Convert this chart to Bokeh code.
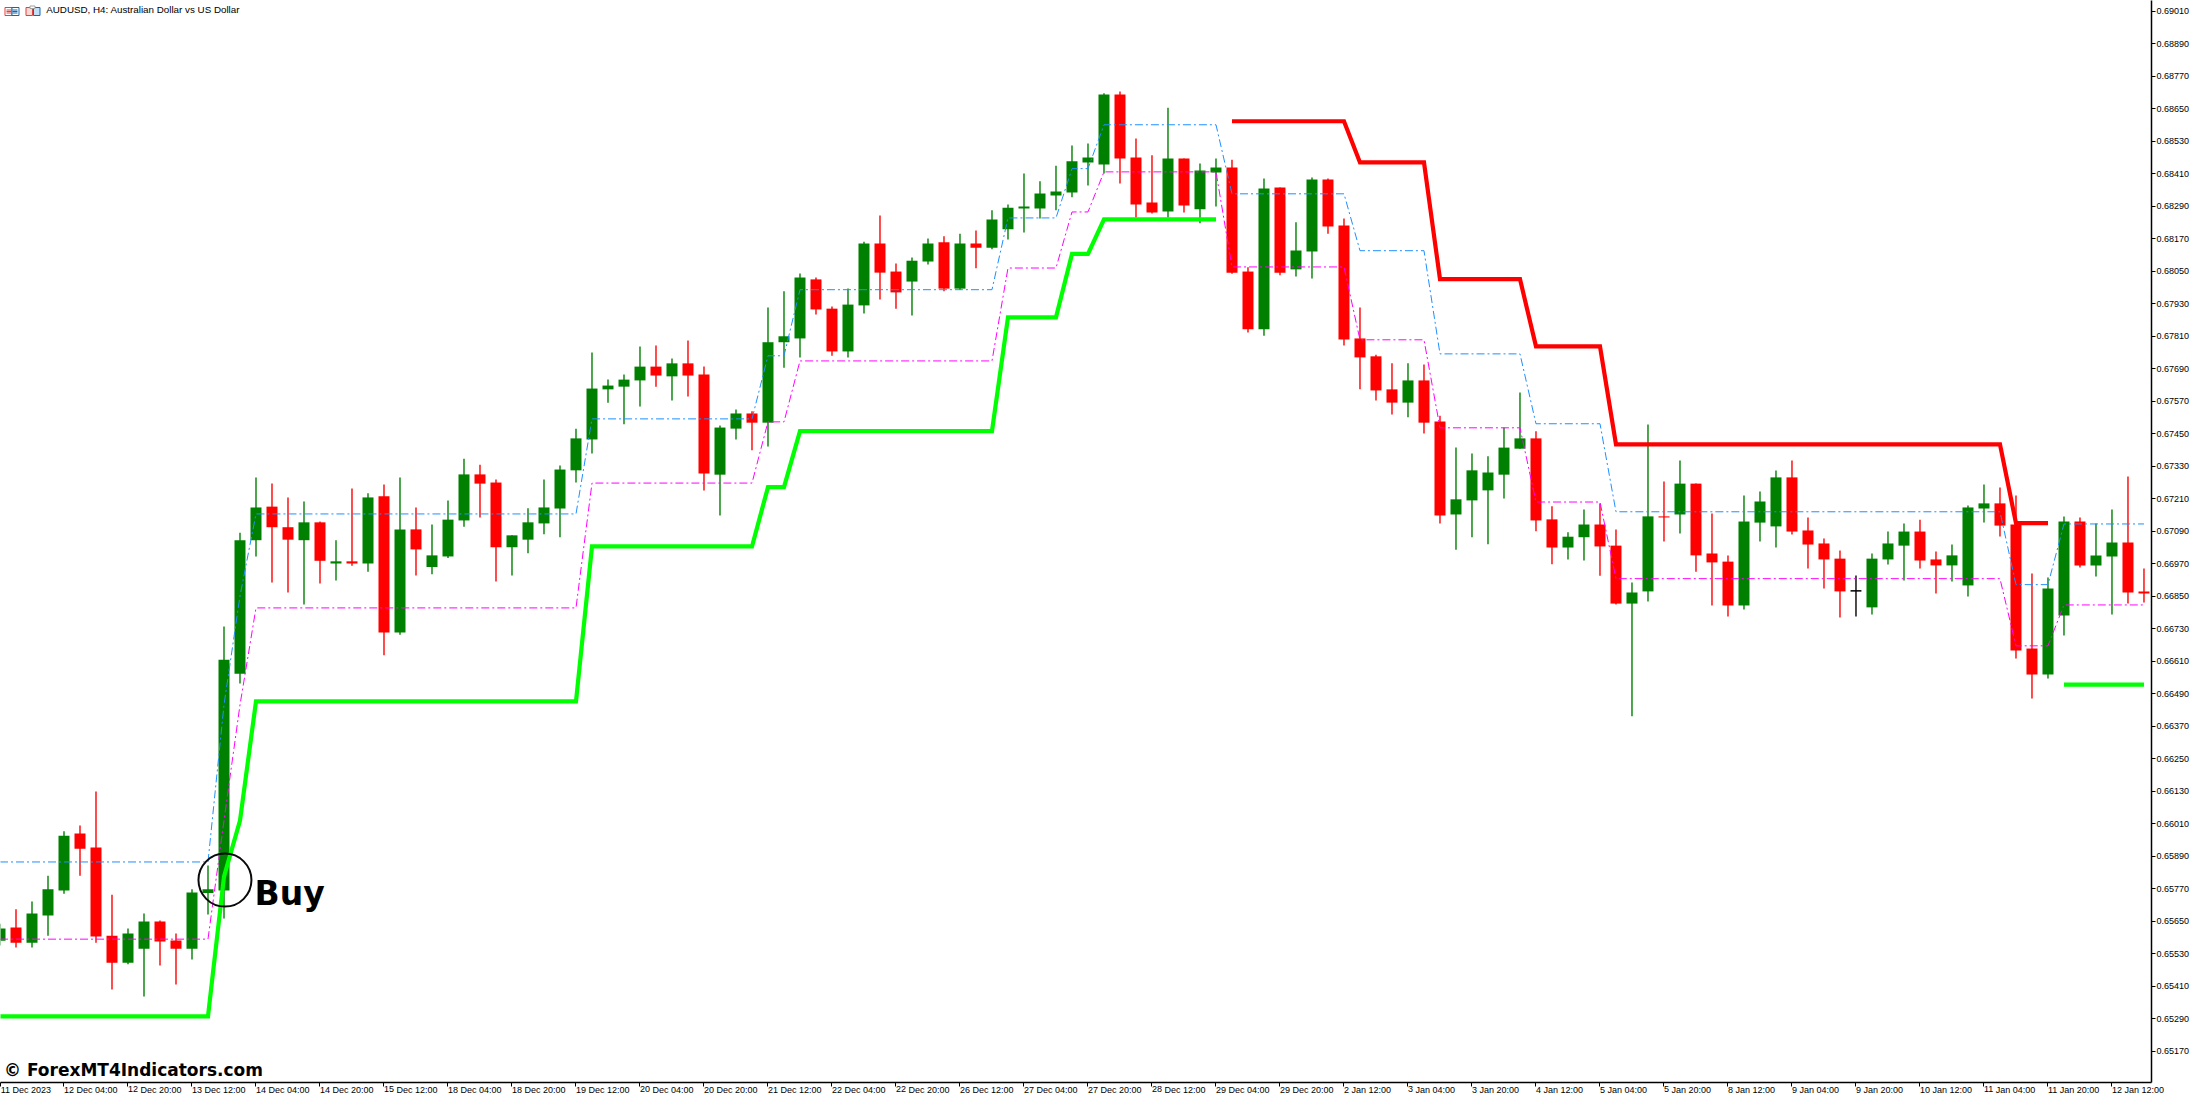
from bokeh.plotting import figure
from bokeh.models import ColumnDataSource, FixedTicker, Range1d, AllLabels, NumeralTickFormatter
from bokeh.core.properties import value
from bokeh.embed import file_html
from bokeh.resources import INLINE

opens = [
0.65577,0.65626,0.65570,0.65670,0.65763,0.65973,0.65921,0.65596,0.65496,0.65548,
0.65648,0.65578,0.65548,0.65753,0.65763,0.66563,0.67056,0.67180,0.67104,0.67056,
0.67122,0.66970,0.66978,0.66970,0.67218,0.66715,0.67096,0.66957,0.66996,0.67129,
0.67299,0.67269,0.67030,0.67058,0.67118,0.67173,0.67314,0.67428,0.67613,0.67623,
0.67646,0.67697,0.67661,0.67709,0.67668,0.67298,0.67468,0.67524,0.67490,0.67787,
0.67801,0.68019,0.67911,0.67753,0.67923,0.68152,0.68048,0.68011,0.68085,0.68156,
0.67985,0.68152,0.68136,0.68204,0.68281,0.68281,0.68329,0.68340,0.68451,0.68443,
0.68702,0.68469,0.68303,0.68270,0.68465,0.68278,0.68414,0.68432,0.68048,0.67835,
0.68358,0.68056,0.68122,0.68388,0.68218,0.67801,0.67735,0.67613,0.67564,0.67646,
0.67494,0.67151,0.67203,0.67240,0.67298,0.67394,0.67432,0.67133,0.67029,0.67067,
0.67114,0.67036,0.66822,0.66867,0.67144,0.67151,0.67265,0.67007,0.66977,0.66815,
0.67121,0.67107,0.67288,0.67092,0.67044,0.66988,0.66869,0.66808,0.66985,0.67036,
0.67088,0.66985,0.66963,0.66889,0.67173,0.67192,0.67114,0.66656,0.66560,0.66778,
0.67125,0.66963,0.66996,0.67048,0.66867]
highs = [
0.65640,0.65693,0.65722,0.65817,0.65981,0.66003,0.66128,0.65747,0.65622,0.65678,
0.65652,0.65604,0.65767,0.65855,0.66737,0.67084,0.67288,0.67265,0.67214,0.67199,
0.67125,0.67056,0.67247,0.67229,0.67262,0.67288,0.67177,0.67114,0.67203,0.67357,
0.67335,0.67280,0.67074,0.67174,0.67280,0.67332,0.67468,0.67749,0.67649,0.67668,
0.67771,0.67775,0.67727,0.67793,0.67697,0.67480,0.67539,0.67532,0.67915,0.67975,
0.68041,0.68026,0.67919,0.67985,0.68158,0.68255,0.68078,0.68100,0.68170,0.68178,
0.68188,0.68200,0.68274,0.68296,0.68410,0.68381,0.68439,0.68513,0.68521,0.68706,
0.68713,0.68539,0.68477,0.68653,0.68465,0.68447,0.68465,0.68461,0.68064,0.68392,
0.68358,0.68230,0.68395,0.68392,0.68244,0.67915,0.67741,0.67709,0.67709,0.67705,
0.67516,0.67398,0.67376,0.67366,0.67472,0.67601,0.67458,0.67181,0.67085,0.67169,
0.67192,0.67096,0.66900,0.67483,0.67273,0.67350,0.67265,0.67155,0.67000,0.67221,
0.67236,0.67313,0.67350,0.67140,0.67062,0.67018,0.66926,0.67007,0.67088,0.67118,
0.67132,0.67014,0.67040,0.67184,0.67262,0.67251,0.67221,0.66933,0.66918,0.67144,
0.67140,0.67118,0.67169,0.67291,0.66952]
lows = [
0.65560,0.65552,0.65552,0.65596,0.65751,0.65817,0.65570,0.65397,0.65490,0.65371,
0.65486,0.65416,0.65508,0.65674,0.65659,0.66527,0.66996,0.66900,0.66863,0.66819,
0.66896,0.66907,0.66962,0.66940,0.66631,0.66707,0.66926,0.66930,0.66990,0.67106,
0.67140,0.66904,0.66926,0.67008,0.67078,0.67067,0.67269,0.67376,0.67564,0.67484,
0.67550,0.67623,0.67572,0.67587,0.67240,0.67147,0.67428,0.67388,0.67402,0.67693,
0.67731,0.67889,0.67737,0.67731,0.67893,0.67945,0.67911,0.67886,0.68074,0.67975,
0.67980,0.68060,0.68130,0.68166,0.68192,0.68244,0.68274,0.68322,0.68366,0.68410,
0.68373,0.68248,0.68262,0.68248,0.68266,0.68226,0.68288,0.68040,0.67823,0.67811,
0.68034,0.68030,0.68022,0.68188,0.67775,0.67613,0.67572,0.67520,0.67510,0.67450,
0.67118,0.67021,0.67067,0.67041,0.67210,0.67394,0.67089,0.66967,0.66985,0.66981,
0.66925,0.66819,0.66406,0.66830,0.67051,0.67081,0.66940,0.66815,0.66774,0.66800,
0.67051,0.67029,0.67077,0.66952,0.66878,0.66771,0.66774,0.66782,0.66966,0.66907,
0.66952,0.66859,0.66904,0.66848,0.67121,0.67070,0.66619,0.66472,0.66545,0.66704,
0.66955,0.66922,0.66782,0.66822,0.66826]
closes = [
0.65622,0.65570,0.65678,0.65767,0.65965,0.65917,0.65593,0.65496,0.65604,0.65648,
0.65574,0.65548,0.65755,0.65767,0.66615,0.67056,0.67177,0.67104,0.67058,0.67122,
0.66980,0.66978,0.66970,0.67214,0.66715,0.67096,0.67022,0.67000,0.67132,0.67299,
0.67265,0.67030,0.67074,0.67122,0.67177,0.67317,0.67432,0.67616,0.67627,0.67649,
0.67697,0.67664,0.67709,0.67664,0.67302,0.67472,0.67524,0.67490,0.67787,0.67809,
0.68026,0.67908,0.67753,0.67926,0.68152,0.68044,0.67971,0.68088,0.68152,0.67985,
0.68152,0.68136,0.68240,0.68284,0.68288,0.68336,0.68344,0.68455,0.68469,0.68702,
0.68465,0.68296,0.68266,0.68465,0.68292,0.68421,0.68432,0.68044,0.67835,0.68355,
0.68044,0.68126,0.68388,0.68214,0.67797,0.67731,0.67609,0.67564,0.67646,0.67490,
0.67147,0.67207,0.67314,0.67306,0.67398,0.67432,0.67129,0.67029,0.67069,0.67114,
0.67033,0.66822,0.66863,0.67144,0.67140,0.67265,0.67000,0.66974,0.66815,0.67125,
0.67199,0.67288,0.67088,0.67040,0.66985,0.66867,0.66869,0.66988,0.67044,0.67088,
0.66981,0.66963,0.67000,0.67177,0.67192,0.67110,0.66649,0.66560,0.66878,0.67125,
0.66963,0.67000,0.67048,0.66863,0.66859]

nan = float("nan")
support_line = ([0.65298]*14 + [0.65814, 0.66021] + [0.66461]*21 + [0.67033]*11 + [0.67252]*2 +
                [0.67459]*13 + [0.67879]*4 + [0.68113]*2 + [0.68241]*8 + [nan]*52 + [0.66523]*6)
resistance_line = ([nan]*77 + [0.68603]*8 + [0.68451]*5 + [0.68020]*6 + [0.67772]*5 + [0.67410]*25 +
                   [0.67119]*3 + [nan]*6)
upper_line = ([0.65868]*14 + [0.66448, 0.66850] + [0.67153]*21 + [0.67504]*11 + [0.67737]*2 +
              [0.67981]*13 + [0.68246]*4 + [0.68428]*2 + [0.68590]*8 + [0.68335]*8 + [0.68125]*5 +
              [0.67744]*6 + [0.67486]*5 + [0.67161]*25 + [0.66892]*3 + [0.67116]*6)
lower_line = ([0.65583]*14 + [0.66021, 0.66448] + [0.66806]*21 + [0.67267]*11 + [0.67493]*2 +
              [0.67718]*13 + [0.68061]*4 + [0.68268]*2 + [0.68416]*8 + [0.68065]*8 + [0.67796]*5 +
              [0.67471]*6 + [0.67197]*5 + [0.66914]*25 + [0.66666]*3 + [0.66817]*6)

x_tick_labels = ["11 Dec 2023","12 Dec 04:00","12 Dec 20:00","13 Dec 12:00","14 Dec 04:00","14 Dec 20:00",
 "15 Dec 12:00","18 Dec 04:00","18 Dec 20:00","19 Dec 12:00","20 Dec 04:00","20 Dec 20:00","21 Dec 12:00",
 "22 Dec 04:00","22 Dec 20:00","26 Dec 12:00","27 Dec 04:00","27 Dec 20:00","28 Dec 12:00","29 Dec 04:00",
 "29 Dec 20:00","2 Jan 12:00","3 Jan 04:00","3 Jan 20:00","4 Jan 12:00","5 Jan 04:00","5 Jan 20:00",
 "8 Jan 12:00","9 Jan 04:00","9 Jan 20:00","10 Jan 12:00","11 Jan 04:00","11 Jan 20:00","12 Jan 12:00"]
y_ticks = [0.69010,0.68890,0.68770,0.68650,0.68530,0.68410,0.68290,0.68170,0.68050,0.67930,0.67810,
 0.67690,0.67570,0.67450,0.67330,0.67210,0.67090,0.66970,0.66850,0.66730,0.66610,0.66490,0.66370,
 0.66250,0.66130,0.66010,0.65890,0.65770,0.65650,0.65530,0.65410,0.65290,0.65170]

GREEN, RED, BLACK = "#008000", "#FF0000", "#000000"
bars = list(range(len(opens)))
colors = [GREEN if c > o else RED if c < o else BLACK for o, c in zip(opens, closes)]

X0, X1 = 0.03125, 134.47
Y0, Y1 = 0.650537, 0.690488

def px_x(px):
    return X0 + px / 16.0

def px_y(py):
    return Y1 - py * (Y1 - Y0) / 1082.0

p = figure(width=2193, height=1100, frame_width=2151, frame_height=1082,
           output_backend="svg", toolbar_location=None,
           x_range=Range1d(X0, X1), y_range=Range1d(Y0, Y1),
           x_axis_location="below", y_axis_location="right",
           min_border_left=0, min_border_top=0, min_border_right=42, min_border_bottom=18,
           background_fill_color="white", border_fill_color="white", outline_line_color=None)
p.grid.visible = False

src = ColumnDataSource(dict(
    x=bars, high=highs, low=lows, color=colors,
    top=[max(o, c) for o, c in zip(opens, closes)],
    bottom=[min(o, c) for o, c in zip(opens, closes)]))
p.segment("x", "high", "x", "low", source=src, line_color="color", line_width=1.4)
p.vbar(x="x", width=0.6875, top="top", bottom="bottom", source=src, fill_color="color", line_color=None)
doji = [i for i in bars if opens[i] == closes[i]]
p.segment([i - 0.34 for i in doji], [opens[i] for i in doji], [i + 0.34 for i in doji], [opens[i] for i in doji],
          line_color=BLACK, line_width=1.5)

p.line(bars, support_line, line_color="#00FF00", line_width=4.2, line_join="miter")
p.line(bars, resistance_line, line_color="#FF0000", line_width=4.2, line_join="miter")
p.line(bars, upper_line, line_color="#1E90FF", line_width=1, line_dash="8 3 2 3")
p.line(bars, lower_line, line_color="#FF00FF", line_width=1, line_dash="8 3 2 3")

p.scatter([14.06], [0.65801], marker="circle", size=53, fill_color=None, line_color="#0A0A0A", line_width=2)
p.text([px_x(254)], [px_y(893)], text=["Buy"], text_font=value("DejaVu Sans"), text_font_style="bold",
       text_font_size="33px", text_baseline="alphabetic", text_color="#000000")
p.text([px_x(3.5)], [px_y(1069)], text=["\u00a9 ForexMT4Indicators.com"], text_font=value("DejaVu Sans"),
       text_font_style="bold", text_font_size="17px", text_baseline="alphabetic", text_color="#000000")
p.text([px_x(45.7)], [px_y(9)], text=["AUDUSD, H4:  Australian Dollar vs US Dollar"],
       text_font=value("Liberation Sans"), text_font_size="9.8px", text_baseline="alphabetic", text_color="#000000")

# header icons
def box(l, r, t, b, fill, line):
    p.quad(left=[px_x(l)], right=[px_x(r)], top=[px_y(t)], bottom=[px_y(b)], fill_color=fill, line_color=line, line_width=1)

box(4.5, 11.5, 7, 15, "#FFFFFF", "#E04040")
box(11.5, 18.5, 7, 15, "#FFFFFF", "#1068B0")
for yy in (9.5, 11, 12.5):
    p.segment([px_x(6)], [px_y(yy)], [px_x(11)], [px_y(yy)], line_color="#E04040", line_width=1)
    p.segment([px_x(12)], [px_y(yy)], [px_x(17)], [px_y(yy)], line_color="#1068B0", line_width=1)
box(25.5, 32, 7, 15, "#FBD8D0", "#E04040")
box(33, 39.5, 7, 15, "#BFE0F8", "#1068B0")
box(29.5, 34.5, 5.5, 8, "#FFFFFF", "#A0A0A0")

# the first tick sits on the frame's left edge, so it is nudged just inside the range
x_ticks = [X0 + 0.01] + bars[4::4]
xa = p.xaxis[0]
xa.ticker = FixedTicker(ticks=x_ticks)
xa.major_label_overrides = {t: s for t, s in zip(x_ticks, x_tick_labels)}
xa.major_label_policy = AllLabels()
xa.major_label_orientation = -0.00001   # a non-zero angle makes the labels start at their tick
xa.major_label_standoff = 3
xa.major_label_text_font = "Liberation Sans"
xa.major_label_text_font_size = "9px"
xa.major_label_text_color = "#000000"
xa.major_tick_in = 0
xa.major_tick_out = 4
xa.minor_tick_line_color = None
xa.axis_line_color = "#000000"
xa.axis_line_width = 1.5
xa.major_tick_line_color = "#000000"

ya = p.yaxis[0]
ya.ticker = FixedTicker(ticks=y_ticks)
ya.formatter = NumeralTickFormatter(format="0.00000")
ya.major_label_policy = AllLabels()
ya.major_label_standoff = 1
ya.major_label_text_font = "Liberation Sans"
ya.major_label_text_font_size = "9px"
ya.major_label_text_color = "#000000"
ya.major_tick_in = 0
ya.major_tick_out = 4
ya.minor_tick_line_color = None
ya.axis_line_color = "#000000"
ya.axis_line_width = 1.5
ya.major_tick_line_color = "#000000"

html = file_html(p, INLINE)
html = html.replace("<body>", '<body style="margin:0;overflow:hidden">', 1)
open("out.html", "w").write(html)
